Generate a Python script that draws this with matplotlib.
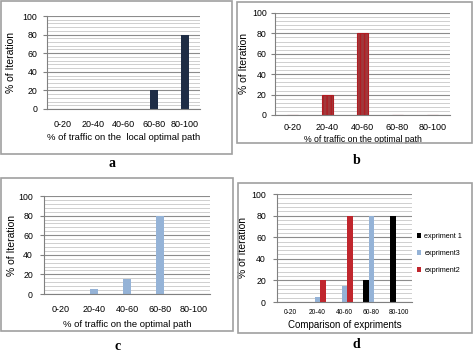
import numpy as np
import matplotlib.pyplot as plt
from matplotlib.patches import Rectangle
from matplotlib.ticker import MultipleLocator

W, H = 474, 352

categories = ["0-20", "20-40", "40-60", "60-80", "80-100"]
exp1 = [0, 0, 0, 20, 80]
exp2 = [0, 20, 80, 0, 0]
exp3 = [0, 5, 15, 80, 0]

plt.rcParams['font.family'] = ['Liberation Sans', 'DejaVu Sans']

fig = plt.figure(figsize=(W / 100, H / 100), dpi=100)


def px_axes(x0, y0, x1, y1):
    # pixel box (top-left origin) -> figure axes
    return fig.add_axes([x0 / W, 1 - y1 / H, (x1 - x0) / W, (y1 - y0) / H])


def frame(x0, y0, x1, y1):
    fig.patches.append(Rectangle((x0 / W, 1 - y1 / H), (x1 - x0) / W, (y1 - y0) / H,
                                 transform=fig.transFigure, fill=False,
                                 edgecolor="#a0a0a0", linewidth=1.2))


def style(ax, xlabel, tick_fs=6.5, xl_fs=6.8, ypad=4, ylpad=4, xpad=8, xlpad=4):
    ax.set_ylim(0, 100)
    ax.set_xlim(-0.5, 4.5)
    ax.yaxis.set_major_locator(MultipleLocator(20))
    ax.yaxis.set_minor_locator(MultipleLocator(4))
    ax.grid(axis="y", which="major", color="#8c8c8c", linewidth=0.8)
    ax.grid(axis="y", which="minor", color="#c8c8c8", linewidth=0.6)
    ax.set_axisbelow(True)
    ax.set_xticks(range(5))
    ax.set_xticklabels(categories, fontsize=tick_fs)
    ax.tick_params(axis="y", labelsize=6.3, length=3, pad=ypad, color="#808080")
    ax.tick_params(axis="y", which="minor", length=0)
    ax.tick_params(axis="x", length=0, pad=xpad)
    for s in ["top", "right"]:
        ax.spines[s].set_visible(False)
    for s in ["left", "bottom"]:
        ax.spines[s].set_color("#808080")
    ax.set_xlabel(xlabel, fontsize=xl_fs, labelpad=xlpad)
    ax.set_ylabel("% of Iteration", fontsize=7.5, labelpad=ylpad)


x = np.arange(5)

# panel a
frame(1, 1, 232, 154)
ax = px_axes(47, 16, 200, 109)
ax.bar(x, exp1, width=0.25, color="#1f2d45")
style(ax, "% of traffic on the  local optimal path", ypad=4, ylpad=5, xpad=8, xlpad=3)
fig.text(112 / W, 1 - 164 / H, "a", ha="center", va="center",
         fontsize=10, fontweight="bold", family="Liberation Serif")

# panel b
frame(237, 2, 472, 143)
ax = px_axes(275, 13, 450, 115)
ax.bar(x, exp2, width=0.29, color="#a0393c", edgecolor="#b01c22",
       hatch="||||", linewidth=0.8)
style(ax, "% of traffic on the optimal path", xl_fs=6.3, ypad=3, ylpad=2,
      xpad=6, xlpad=2)
fig.text(357 / W, 1 - 161 / H, "b", ha="center", va="center",
         fontsize=10, fontweight="bold", family="Liberation Serif")

# panel c
frame(1, 178, 233, 331)
ax = px_axes(44, 196, 210, 294)
ax.bar(x, exp3, width=0.25, color="#95b3d7")
style(ax, "% of traffic on the optimal path", ypad=5, ylpad=1, xpad=8, xlpad=4)
fig.text(118 / W, 1 - 346 / H, "c", ha="center", va="center",
         fontsize=10, fontweight="bold", family="Liberation Serif")

# panel d
frame(238, 183, 472, 333)
ax = px_axes(277, 194, 412, 302)
bw = 0.2
ax.bar(x - bw, exp1, width=bw, color="#000000", label="expriment 1")
ax.bar(x, exp3, width=bw, color="#95b3d7", label="expriment3")
ax.bar(x + bw, exp2, width=bw, color="#c0262d", label="expriment2")
style(ax, "Comparison of expriments", tick_fs=4.8, xl_fs=7, ypad=5, ylpad=2,
      xpad=5, xlpad=3)
ax.legend(loc="center left", bbox_to_anchor=(1.0, 0.45), frameon=False,
          fontsize=5.2, handlelength=0.6, handleheight=0.6, labelspacing=1.4,
          handletextpad=0.4, borderaxespad=0.3)
fig.text(356 / W, 1 - 345 / H, "d", ha="center", va="center",
         fontsize=10, fontweight="bold", family="Liberation Serif")

plt.savefig("out.png", dpi=100)
plt.close()
